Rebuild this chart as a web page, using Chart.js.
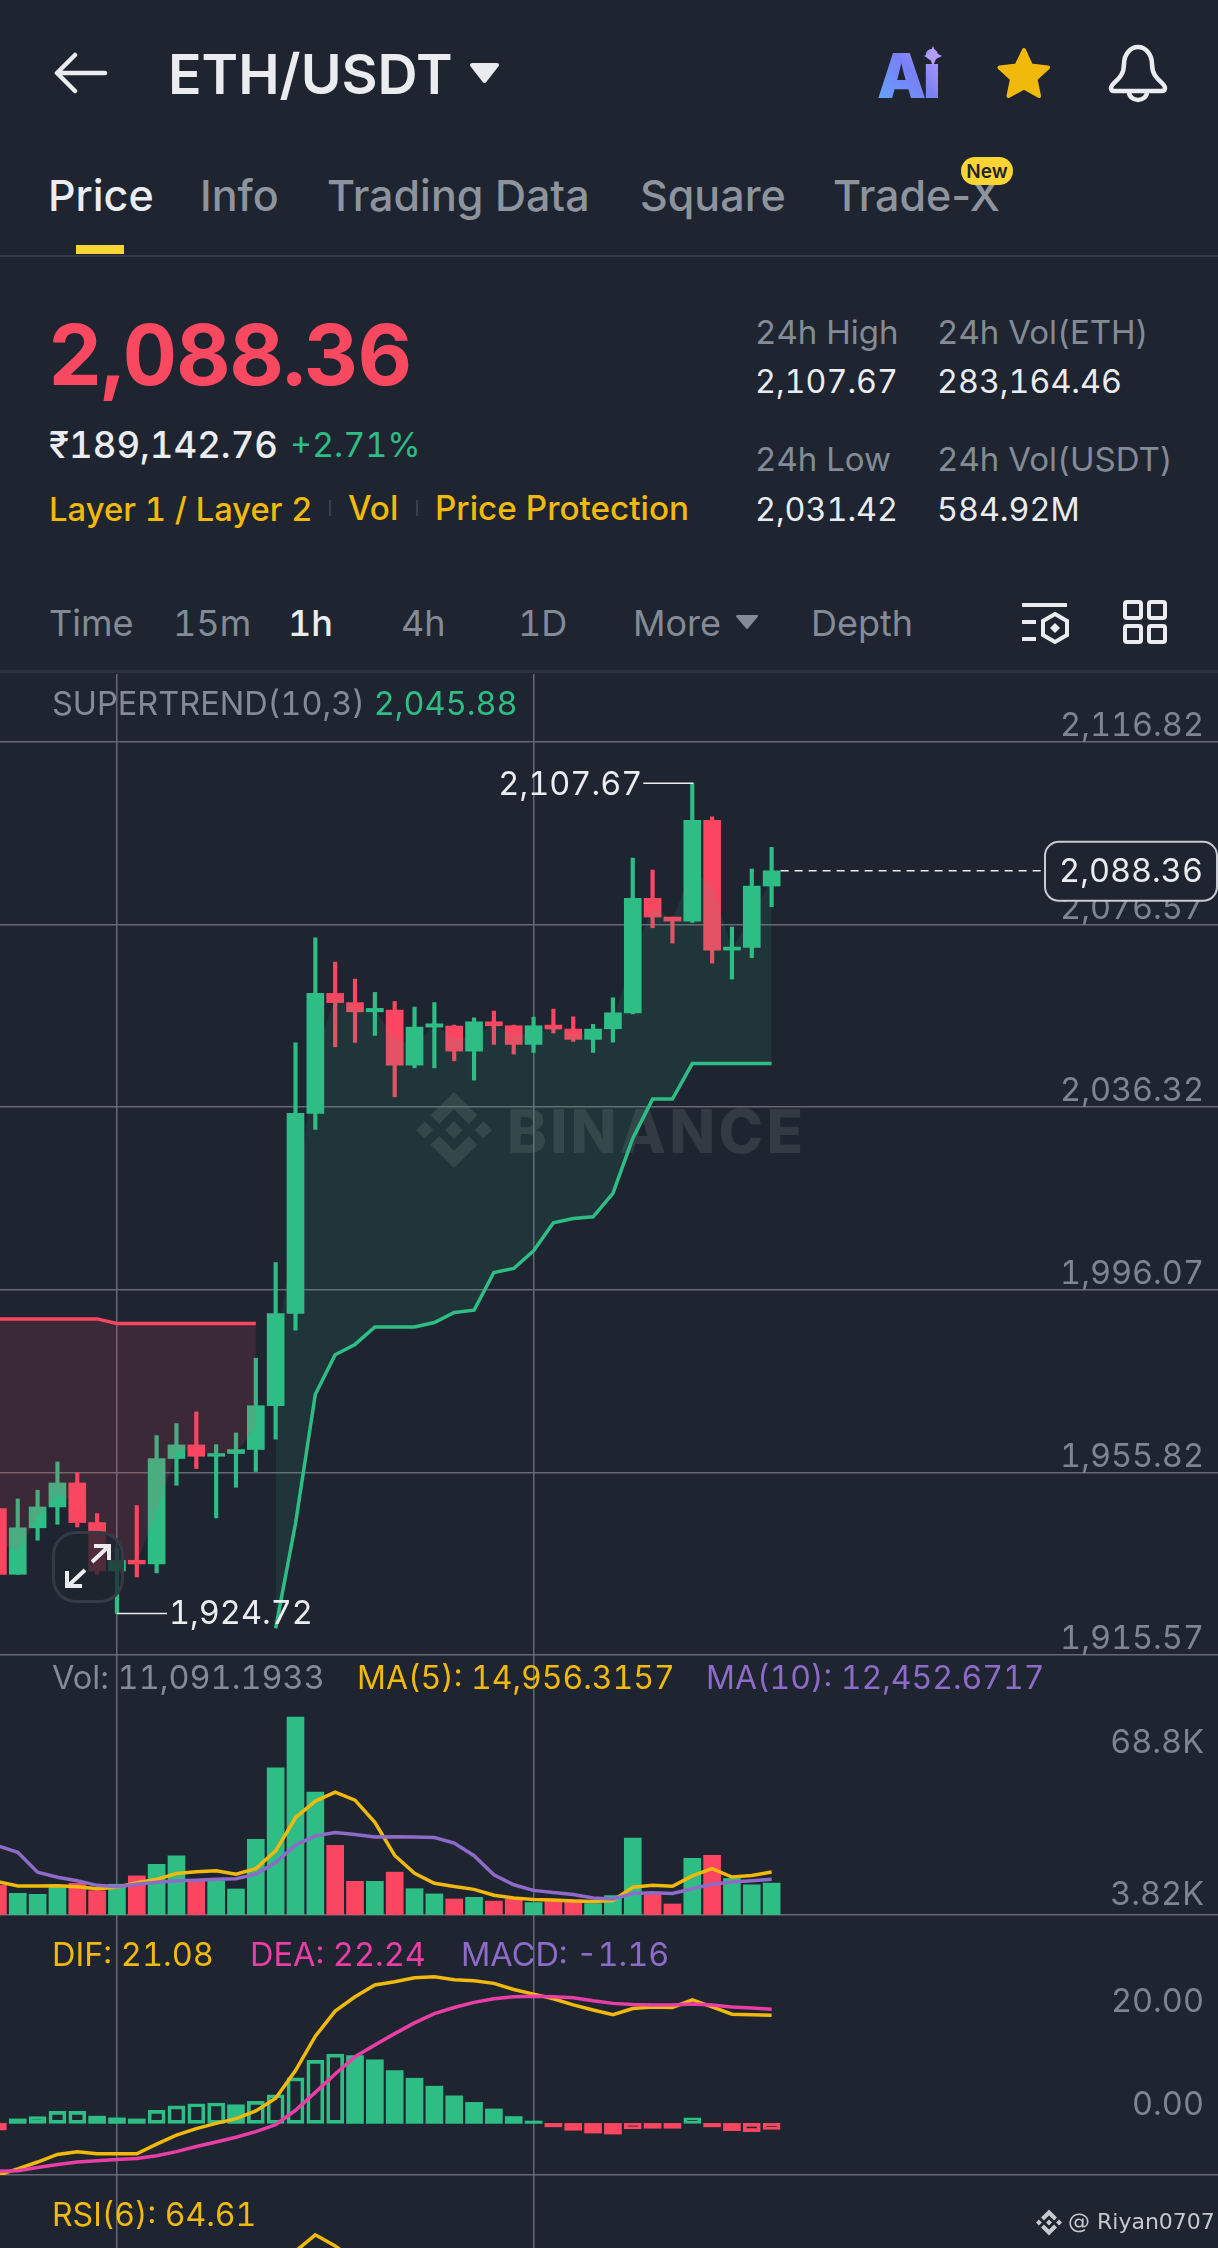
<!DOCTYPE html>
<html lang="en">
<head>
<meta charset="UTF-8">
<title>ETH/USDT</title>
<style>
  html, body { margin: 0; padding: 0; background: #1e2530; }
  body { position: relative; width: 1218px; height: 2248px; overflow: hidden; font-family: Inter, sans-serif; color: #848b96; font-variant-numeric: tabular-nums; }
  .t { position: absolute; white-space: nowrap; transform: translateY(-50%); line-height: 1; }
  .tab { font-size: 43px; font-weight: 500; top: 195px; color: #8e949e; font-variant-numeric: normal; }
  .stat { font-size: 33px; color: #848b96; }
  .val { font-size: 32.3px; color: #eaecef; }
  .tf { font-size: 36px; top: 623px; color: #848b96; }
  .tag { font-size: 33.3px; font-weight: 500; top: 509px; color: #f0b90b; }
  .lg { font-size: 32.5px; }
  .abs { position: absolute; }
  canvas { position: absolute; left: -12px; z-index: 2; font-variant-numeric: tabular-nums; }
  .line { position: absolute; left: 0; width: 1218px; height: 2px; background: #343a46; }
  #wmText { font-size: 60px; font-weight: 800; color: #343a44; letter-spacing: 3.3px; left: 507px; top: 1131px; z-index: 1; }
</style>
</head>
<body>
  <svg class="abs" style="left:54px;top:52px" width="54" height="42" viewBox="0 0 54 42" fill="none" stroke="#eaecef" stroke-width="4.5" stroke-linecap="round" stroke-linejoin="round"><path d="M51 21H4M21 3 3 21l18 18"/></svg>
  <div class="t" style="left:168px;top:74px;font-size:55.5px;font-weight:600;color:#eaecef">ETH/USDT</div>
  <svg class="abs" style="left:469px;top:62px" width="31" height="22" viewBox="0 0 31 22"><path d="M3 3h25L15.500 19z" fill="#eaecef" stroke="#eaecef" stroke-width="4" stroke-linejoin="round"/></svg>

  <svg class="abs" style="left:876px;top:44px" width="70" height="60" viewBox="0 0 70 60">
    <defs><linearGradient id="aiGrad" x1="0" y1="1" x2="1" y2="0"><stop offset="0" stop-color="#5fa8ff"/><stop offset="0.55" stop-color="#7a80f5"/><stop offset="1" stop-color="#c6a4ff"/></linearGradient></defs>
    <text x="1" y="54" font-family="Inter" font-weight="900" font-size="62" fill="url(#aiGrad)" textLength="64">Ai</text>
    <path d="M57 2l3 7 6 3-6 3-3 7-3-7-6-3 6-3z" fill="#b79cff"/>
  </svg>
  <svg class="abs" style="left:996px;top:45px" width="56" height="56" viewBox="0 0 56 56"><path d="M28 5l7 15.500 17 2-12.500 11.500 3.500 17L28 42.500 12.500 51 16 34 3.500 22.500l17-2z" fill="#f0b90b" stroke="#f0b90b" stroke-width="4" stroke-linejoin="round"/></svg>
  <svg class="abs" style="left:1108px;top:42px" width="60" height="62" viewBox="0 0 60 62" fill="none" stroke="#eaecef" stroke-width="4.500" stroke-linejoin="round"><path d="M16 22a14 17 0 0 1 28 0c0 16 13 18 13 24 0 2-1 3-3 3H6c-2 0-3-1-3-3 0-6 13-8 13-24z"/><path d="M21 50a9 8 0 0 0 18 0"/></svg>

  <div class="t tab" style="left:48px;color:#eaecef">Price</div>
  <div class="t tab" style="left:200px">Info</div>
  <div class="t tab" style="left:327px">Trading Data</div>
  <div class="t tab" style="left:640px">Square</div>
  <div class="t tab" style="left:833px">Trade-X</div>
  <div class="abs" style="left:961px;top:157px;width:52px;height:28px;border-radius:14px;background:#fcd535"></div>
  <div class="t" style="left:987px;top:171px;font-size:19px;font-weight:600;color:#1e2530;transform:translate(-50%,-50%)">New</div>
  <div class="abs" style="left:76px;top:245px;width:48px;height:9px;background:#fcd535"></div>
  <div class="line" style="top:255px"></div>

  <div class="t" style="left:48px;top:355px;font-size:84px;font-weight:700;color:#f84960;letter-spacing:-1px">2,088.36</div>
  <div class="t" style="left:49px;top:445px;font-size:36.5px;font-weight:500;color:#eaecef">₹189,142.76</div>
  <div class="t" style="left:290px;top:445px;font-size:34px;color:#2ebd85">+2.71%</div>
  <div class="t tag" style="left:49px;font-size:32.8px">Layer 1 / Layer 2</div>
  <div class="abs" style="left:329px;top:500px;width:2px;height:16px;background:#3a4049"></div>
  <div class="t tag" style="left:348px">Vol</div>
  <div class="abs" style="left:416px;top:500px;width:2px;height:16px;background:#3a4049"></div>
  <div class="t tag" style="left:435px">Price Protection</div>

  <div class="t stat" style="left:755px;top:332px">24h High</div>
  <div class="t val" style="left:755px;top:382px">2,107.67</div>
  <div class="t stat" style="left:937px;top:332px">24h Vol(ETH)</div>
  <div class="t val" style="left:937px;top:382px">283,164.46</div>
  <div class="t stat" style="left:755px;top:459px">24h Low</div>
  <div class="t val" style="left:755px;top:510px">2,031.42</div>
  <div class="t stat" style="left:937px;top:459px">24h Vol(USDT)</div>
  <div class="t val" style="left:937px;top:510px">584.92M</div>

  <div class="t tf" style="left:49px">Time</div>
  <div class="t tf" style="left:173px">15m</div>
  <div class="t tf" style="left:288px;color:#eaecef;font-weight:500">1h</div>
  <div class="t tf" style="left:401px">4h</div>
  <div class="t tf" style="left:518px">1D</div>
  <div class="t tf" style="left:633px">More</div>
  <svg class="abs" style="left:735px;top:614px" width="24" height="16" viewBox="0 0 24 16"><path d="M2 2h20L12 14z" fill="#848b96" stroke="#848b96" stroke-width="2" stroke-linejoin="round"/></svg>
  <div class="t tf" style="left:811px">Depth</div>
  <svg class="abs" style="left:1020px;top:600px" width="50" height="46" viewBox="0 0 50 46" fill="none" stroke="#eaecef" stroke-width="4"><path d="M2 5h45M2 22h14M2 39h14"/><path d="M35 14l12 7v14l-12 7-12-7V21z"/><path d="M35 23l5 5-5 5-5-5z" fill="#eaecef" stroke="none"/></svg>
  <svg class="abs" style="left:1122px;top:599px" width="46" height="46" viewBox="0 0 46 46" fill="none" stroke="#eaecef" stroke-width="4"><rect x="3" y="3" width="16" height="16" rx="2"/><rect x="27" y="3" width="16" height="16" rx="2"/><rect x="3" y="27" width="16" height="16" rx="2"/><rect x="27" y="27" width="16" height="16" rx="2"/></svg>
  <div class="line" style="top:670px;background:#2c333e;height:3px"></div>

  <svg class="abs" style="left:416px;top:1092px;z-index:1" width="76" height="76" viewBox="0 0 126.610 126.610"><path fill="#343a44" d="m38.730 53.200 24.590-24.580 24.600 24.600 14.300-14.310L63.320 0 24.430 38.900zM0 63.310l14.300-14.310 14.310 14.310-14.310 14.300zm38.730 10.100 24.590 24.590 24.600-24.600 14.310 14.290-38.900 38.910-38.910-38.880zm59.270-10.100 14.300-14.310 14.310 14.300-14.310 14.310zM77.830 63.300 63.320 48.780 52.590 59.510l-1.240 1.230-2.540 2.540 14.510 14.500 14.510-14.470z"/></svg>
  <div class="t" id="wmText">BINANCE</div>

  <canvas id="priceChart" width="1230" height="983" style="top:674px"></canvas>
  <canvas id="volChart" width="1230" height="262" style="top:1655px"></canvas>
  <canvas id="macdChart" width="1230" height="262" style="top:1915px"></canvas>
  <canvas id="rsiChart" width="1230" height="74" style="top:2174px"></canvas>

  <div class="t lg" style="left:52px;top:704px;z-index:3;color:#848b96">SUPERTREND(10,3) <span style="color:#2ebd85">2,045.88</span></div>
  <div class="t lg" style="left:52px;top:1678px;z-index:3;color:#848b96">Vol: 11,091.1933</div>
  <div class="t lg" style="left:357px;top:1678px;z-index:3;color:#f0b90b;font-size:32px">MA(5): 14,956.3157</div>
  <div class="t lg" style="left:706px;top:1678px;z-index:3;color:#8e6bc8;font-size:32px">MA(10): 12,452.6717</div>
  <div class="t lg" style="left:52px;top:1955px;z-index:3;color:#f0b90b">DIF: 21.08</div>
  <div class="t lg" style="left:250px;top:1955px;z-index:3;color:#e93ea6">DEA: 22.24</div>
  <div class="t lg" style="left:461px;top:1955px;z-index:3;color:#8e6bc8">MACD: -1.16</div>
  <div class="t lg" style="left:52px;top:2215px;z-index:3;color:#f0b90b;font-size:32px">RSI(6): 64.61</div>

  <div class="abs" style="left:52px;top:1531px;width:66px;height:66px;border:3px solid #353b46;border-radius:24px;background:rgba(30,37,48,.78);z-index:3"></div>
  <svg class="abs" style="left:64px;top:1542px;z-index:4" width="48" height="48" viewBox="0 0 48 48" fill="none" stroke="#eaecef" stroke-width="4"><path d="M28 20 44 5M30 4h15v14M21 28 5 43M3 29v15h15"/></svg>

  <svg class="abs" style="left:1036px;top:2209px;z-index:3" width="26" height="27" viewBox="0 0 126.610 126.610"><path fill="#c5c8cd" d="m38.730 53.200 24.590-24.580 24.600 24.600 14.300-14.310L63.320 0 24.430 38.900zM0 63.310l14.300-14.310 14.310 14.310-14.310 14.300zm38.730 10.100 24.590 24.590 24.600-24.600 14.310 14.290-38.900 38.910-38.910-38.880zm59.270-10.100 14.300-14.310 14.310 14.300-14.310 14.310zM77.830 63.300 63.320 48.780 52.590 59.510l-1.240 1.230-2.540 2.540 14.510 14.500 14.510-14.470z"/></svg>
  <div class="t" style="left:1068px;top:2222px;font-size:22px;font-family:'DejaVu Sans';color:#c5c8cd;z-index:3">@ Riyan0707</div>

  <script src="https://cdn.jsdelivr.net/npm/chart.js"></script>
  <script>
    // values, one entry per candle, left to right
    const opens = [1947.84, 1933.35, 1943.60, 1948.19, 1953.48, 1944.75, 1934.09, 1936.44, 1935.63, 1958.86, 1961.86, 1959.36, 1959.96, 1960.84, 1970.50, 1990.82, 2034.90, 2061.35, 2059.32, 2057.29, 2057.67, 2045.54, 2053.92, 2054.14, 2048.63, 2055.09, 2054.21, 2050.11, 2054.36, 2053.48, 2051.21, 2053.55, 2057.07, 2082.29, 2078.16, 2077.28, 2099.48, 2070.89, 2071.48, 2085.00]
    const closes = [1933.35, 1943.60, 1948.19, 1953.48, 1944.75, 1934.09, 1936.44, 1935.63, 1958.86, 1961.86, 1959.36, 1959.96, 1960.84, 1970.50, 1990.82, 2034.90, 2061.35, 2059.32, 2057.29, 2058.04, 2045.54, 2053.92, 2054.65, 2048.63, 2055.09, 2054.21, 2050.11, 2054.21, 2053.48, 2051.21, 2053.48, 2057.07, 2082.29, 2078.16, 2077.28, 2099.48, 2070.89, 2071.55, 2085.00, 2088.36]
    const highs = [1950.00, 1949.95, 1951.87, 1958.11, 1955.69, 1946.73, 1939.09, 1948.50, 1963.93, 1966.57, 1969.13, 1961.94, 1964.50, 1980.96, 2002.06, 2050.46, 2073.60, 2068.25, 2064.50, 2061.57, 2059.58, 2058.33, 2059.32, 2054.36, 2055.97, 2057.45, 2054.36, 2056.12, 2057.89, 2056.19, 2054.52, 2060.38, 2091.17, 2088.52, 2078.16, 2107.67, 2100.27, 2075.96, 2088.74, 2093.53]
    const lows = [1932.80, 1933.35, 1940.85, 1944.38, 1943.78, 1933.35, 1924.72, 1932.76, 1933.64, 1952.97, 1956.65, 1945.77, 1952.53, 1955.99, 1963.11, 1987.13, 2031.37, 2049.58, 2050.55, 2052.09, 2038.56, 2044.95, 2044.95, 2046.49, 2042.24, 2050.11, 2047.97, 2048.34, 2052.60, 2050.77, 2048.34, 2050.61, 2056.85, 2075.81, 2072.43, 2077.00, 2068.03, 2064.50, 2069.20, 2080.44]

    // supertrend bands and the candle mid line that the shading reaches
    const trendDown = [1989.63, 1989.63, 1989.63, 1989.63, 1989.63, 1989.63, 1988.61, 1988.61, 1988.61, 1988.61, 1988.61, 1988.61, 1988.61, 1988.61, null, null, null, null, null, null, null, null, null, null, null, null, null, null, null, null, null, null, null, null, null, null, null, null, null, null]
    const trendUp = [null, null, null, null, null, null, null, null, null, null, null, null, null, null, 1921.45, 1944.53, 1973.03, 1981.73, 1984.00, 1987.84, 1987.84, 1987.84, 1988.83, 1991.03, 1991.54, 1999.86, 2000.74, 2004.62, 2010.79, 2011.76, 2012.11, 2017.27, 2029.41, 2038.05, 2038.05, 2045.88, 2045.88, 2045.88, 2045.88, 2045.88]
    const trendMid = [1940.6, 1938.5, 1945.9, 1950.8, 1949.1, 1939.4, 1935.3, 1936.0, 1947.2, 1960.4, 1960.6, 1959.7, 1960.4, 1965.7, 1980.7, 2012.9, 2048.1, 2060.3, 2058.3, 2057.7, 2051.6, 2049.7, 2054.3, 2051.4, 2051.9, 2054.6, 2052.2, 2052.2, 2053.9, 2052.3, 2052.3, 2055.3, 2069.7, 2080.2, 2077.7, 2088.4, 2085.2, 2071.2, 2078.2, 2086.7]

    // volume in thousands
    const volume = [10.4, 7.54, 7.19, 10.4, 11.0, 8.44, 10.7, 13.6, 17.6, 20.6, 11.9, 11.9, 9.04, 26.3, 51.1, 68.8, 42.7, 24.2, 11.7, 11.7, 14.9, 9.14, 7.33, 5.56, 6.15, 4.83, 5.56, 4.34, 5.32, 5.32, 3.99, 6.74, 26.7, 7.71, 3.82, 19.7, 20.7, 12.7, 10.5, 11.09]
    const volMa5 = [11.6, 10.1, 10.1, 10.2, 9.83, 9.14, 9.63, 11.2, 12.4, 14.4, 15.0, 15.4, 14.2, 16.1, 22.3, 33.8, 39.6, 42.7, 39.9, 32.2, 20.7, 14.5, 11.05, 9.87, 8.9, 6.88, 5.91, 5.42, 5.21, 4.87, 4.73, 5.07, 9.63, 10.3, 9.97, 13.6, 16.1, 13.2, 13.7, 14.96]
    const volMa10 = [24.0, 21.8, 14.9, 13.1, 11.9, 10.3, 9.83, 10.7, 11.4, 11.9, 12.1, 12.4, 12.6, 14.2, 18.2, 24.3, 27.5, 28.7, 28.0, 27.1, 27.2, 27.1, 26.9, 25.0, 20.6, 14.0, 10.5, 8.55, 7.82, 7.09, 5.91, 5.56, 7.47, 7.71, 7.47, 9.14, 10.7, 11.5, 11.9, 12.45]

    const dif = [-10.09, -8.88, -7.53, -6.05, -5.51, -5.92, -5.92, -5.92, -4.03, -2.29, -1.01, 0, 0.94, 2.42, 4.91, 10.3, 17.0, 21.9, 24.7, 27.0, 27.6, 28.4, 28.6, 28.0, 27.8, 27.3, 26.1, 25.2, 24.3, 23.1, 22.1, 21.2, 22.4, 22.7, 22.6, 24.1, 22.7, 21.3, 21.2, 21.08]
    const dea = [-9.35, -9.21, -8.61, -8.0, -7.53, -7.26, -7.06, -6.86, -6.32, -5.51, -4.51, -3.63, -2.69, -1.61, -0.27, 2.56, 6.05, 9.62, 13.0, 15.3, 17.5, 19.6, 21.4, 22.6, 23.6, 24.3, 24.7, 24.8, 24.7, 24.5, 23.9, 23.4, 23.2, 23.1, 23.1, 23.3, 23.1, 22.7, 22.5, 22.24]
    const macdHist = [-1.3, 0.87, 1.34, 2.35, 2.35, 1.41, 1.08, 0.87, 2.55, 3.43, 3.83, 3.97, 3.63, 4.3, 5.58, 8.88, 12.3, 13.5, 13.2, 12.4, 10.3, 8.81, 7.26, 5.38, 4.1, 2.82, 1.34, 0.47, -0.67, -1.34, -1.88, -2.08, -1.08, -0.94, -0.94, 1.08, -0.67, -1.41, -1.61, -1.16]
    const macdHollow = [1, 0, 1, 1, 1, 0, 0, 0, 1, 1, 1, 1, 0, 1, 1, 1, 1, 1, 0, 0, 0, 0, 0, 0, 0, 0, 0, 0, 0, 0, 0, 0, 1, 0, 0, 1, 0, 0, 1, 1]

    // only the tip of the RSI line is on screen
    const rsi6 = [null, null, null, null, null, null, null, null, null, null, null, null, null, null, 80, 89, 96.1, 91.3, 85, null, null, null, null, null, null, null, null, null, null, null, null, null, null, null, null, null, null, null, null, null]

    const priceTicks = [2116.82, 2076.57, 2036.32, 1996.07, 1955.82, 1915.57]
    const volTop = 68.8, volBottom = 3.82
    const macdTicks = [20, 0]
    const crosshairSlots = [6, 27]
    const lastPrice = 2088.36, highPrice = 2107.67, lowPrice = 1924.72

    // 62 slots across the page, the candles fill the first 40
    const slots = Array.from({ length: 62 }, (_, i) => i)

    const green = '#2ebd85', red = '#fb4661', yellow = '#f0b90b', purple = '#8e6bc8', pink = '#e93ea6'
    const gridColor = '#656973', tickColor = '#7f8590', white = '#eaecef'
    const fontFamily = 'Inter, sans-serif'
    const numberSize = 32.5

    Chart.defaults.font.family = fontFamily
    const candleColors = opens.map((o, i) => closes[i] >= o ? green : red)
    const fmt = v => v.toLocaleString('en-US', { minimumFractionDigits: 2, maximumFractionDigits: 2 })

    function xAxis() {
      return {
        type: 'category',
        offset: true,
        ticks: { display: false, autoSkip: false },
        border: { display: false },
        grid: {
          offset: false,
          drawTicks: false,
          lineWidth: 1.5,
          color: ctx => crosshairSlots.includes(ctx.index) ? gridColor : 'transparent'
        }
      }
    }

    function yAxis(min, max, ticks, labelOffset, format, drawGrid) {
      return {
        min,
        max,
        position: 'right',
        afterBuildTicks: axis => { axis.ticks = ticks.map(value => ({ value })) },
        // labels sit on top of the plot, the axis must not take any room
        afterFit: axis => {
          axis.width = 0
          axis.paddingTop = axis.paddingBottom = axis.paddingLeft = axis.paddingRight = 0
        },
        border: { display: false },
        grid: { display: drawGrid, drawTicks: false, color: gridColor, lineWidth: 1.5 },
        ticks: {
          mirror: true,
          padding: -14,
          labelOffset,
          color: tickColor,
          font: { size: numberSize },
          callback: format
        }
      }
    }

    function lineSet(data, color, extra) {
      return Object.assign({ type: 'line', data, borderColor: color, borderWidth: 3.5, pointRadius: 0, tension: 0, spanGaps: false, order: 1 }, extra)
    }

    function barSet(data, thickness, colors, order) {
      return { type: 'bar', data, barThickness: thickness, backgroundColor: colors, borderWidth: 0, grouped: false, order }
    }

    // high/low labels and the last price tag, placed through the scales
    const priceMarks = {
      id: 'priceMarks',
      afterDraw(chart) {
        const { ctx, scales: { x, y } } = chart
        const hx = x.getPixelForValue(35), hy = y.getPixelForValue(highPrice)
        const lx = x.getPixelForValue(6), ly = y.getPixelForValue(lowPrice)
        const py = y.getPixelForValue(lastPrice), px = x.getPixelForValue(39)
        ctx.save()
        ctx.font = numberSize + 'px ' + fontFamily
        ctx.textBaseline = 'middle'
        ctx.strokeStyle = white
        ctx.fillStyle = white
        ctx.lineWidth = 1.5

        ctx.beginPath()
        ctx.moveTo(hx - 49, hy)
        ctx.lineTo(hx + 1, hy)
        ctx.moveTo(lx, ly)
        ctx.lineTo(lx + 50, ly)
        ctx.stroke()
        ctx.textAlign = 'right'
        ctx.fillText(fmt(highPrice), hx - 50, hy + 2)
        ctx.textAlign = 'left'
        ctx.fillText(fmt(lowPrice), lx + 52, ly + 1)

        ctx.setLineDash([8, 6])
        ctx.beginPath()
        ctx.moveTo(px + 9, py)
        ctx.lineTo(1057, py)
        ctx.stroke()
        ctx.setLineDash([])

        ctx.beginPath()
        ctx.roundRect(1057, py - 29, 172, 59, 14)
        ctx.fillStyle = '#1e2530'
        ctx.fill()
        ctx.strokeStyle = '#c8ccd2'
        ctx.lineWidth = 2
        ctx.stroke()
        ctx.fillStyle = white
        ctx.textAlign = 'right'
        ctx.fillText(fmt(lastPrice), 1215, py + 1)
        ctx.restore()
      }
    }

    const baseOptions = {
      responsive: false,
      animation: false,
      maintainAspectRatio: false,
      plugins: { legend: { display: false }, tooltip: { enabled: false } },
      layout: { autoPadding: false, padding: { bottom: 2 } }
    }

    new Chart(document.getElementById('priceChart'), {
      type: 'bar',
      plugins: [priceMarks],
      data: {
        labels: slots,
        datasets: [
          lineSet(trendDown, red, { fill: { target: 2, above: 'rgba(251,70,97,0.14)', below: 'rgba(251,70,97,0.14)' } }),
          lineSet(trendUp, green, { fill: { target: 2, above: 'rgba(46,189,133,0.11)', below: 'rgba(46,189,133,0.11)' } }),
          lineSet(trendMid, 'transparent', { borderWidth: 0, order: 4 }),
          barSet(opens.map((o, i) => [o, closes[i]]), 17, candleColors, 2),
          barSet(lows.map((l, i) => [l, highs[i]]), 3.5, candleColors, 3)
        ]
      },
      options: {
        ...baseOptions,
        scales: { x: xAxis(), y: yAxis(1915.57, 2131.72, priceTicks, -15.5, fmt, true) }
      }
    })

    // two axes over one range, the labels sit at opposite ends of the panel
    new Chart(document.getElementById('volChart'), {
      type: 'bar',
      data: {
        labels: slots,
        datasets: [
          lineSet(volMa5, yellow, { order: 1 }),
          lineSet(volMa10, purple, { order: 0 }),
          barSet(volume, 17, candleColors, 2)
        ]
      },
      options: {
        ...baseOptions,
        scales: {
          x: { ...xAxis(), border: { display: true, color: gridColor, width: 1.5 } },
          y: yAxis(0, 90.35, [volTop], 26, () => '68.8K', false),
          yLow: yAxis(0, 90.35, [volBottom], -9, () => '3.82K', false)
        }
      }
    })

    new Chart(document.getElementById('macdChart'), {
      type: 'bar',
      data: {
        labels: slots,
        datasets: [
          lineSet(dif, yellow, { order: 1 }),
          lineSet(dea, pink, { order: 0 }),
          {
            type: 'bar',
            data: macdHist,
            barThickness: 17,
            grouped: false,
            order: 2,
            borderSkipped: false,
            borderColor: macdHist.map(v => v >= 0 ? green : red),
            borderWidth: macdHollow.map(h => h ? 3 : 0),
            backgroundColor: macdHist.map((v, i) => macdHollow[i] ? 'transparent' : (v >= 0 ? green : red))
          }
        ]
      },
      options: {
        ...baseOptions,
        scales: {
          x: { ...xAxis(), border: { display: true, color: gridColor, width: 1.5 } },
          y: yAxis(-10.06, 40.63, macdTicks, -18.5, v => v.toFixed(2), false)
        }
      }
    })

    new Chart(document.getElementById('rsiChart'), {
      type: 'line',
      data: { labels: slots, datasets: [lineSet(rsi6, yellow)] },
      options: {
        ...baseOptions,
        layout: { autoPadding: false },
        scales: {
          x: xAxis(),
          y: { min: 90.4, max: 122.4, display: false }
        }
      }
    })
  </script>
</body>
</html>
